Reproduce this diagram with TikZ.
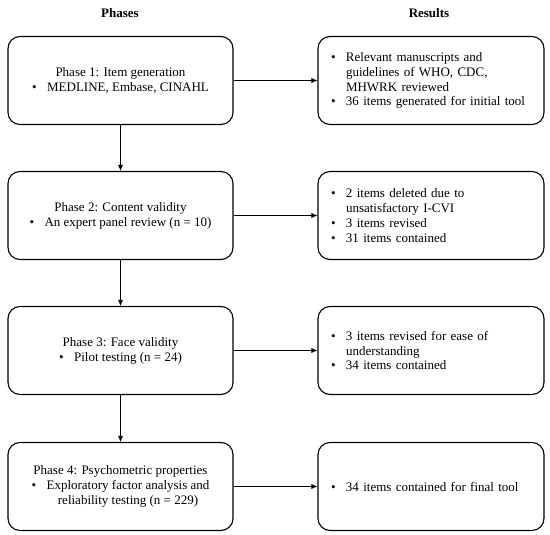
\documentclass[tikz,border=0pt]{standalone}
\usepackage{fontspec}
\setmainfont{Liberation Serif}
\usetikzlibrary{arrows.meta}
\newcommand{\bul}{\makebox[15pt][l]{\textbullet}}
\newcommand{\rbul}{\hspace*{6pt}\makebox[15pt][l]{\textbullet}}
\newcommand{\cont}{\hspace*{15pt}}
\newcommand{\rcont}{\hspace*{21pt}}
\begin{document}
\begin{tikzpicture}[x=1pt,y=-1pt,
  every node/.style={font=\fontsize{13}{14.8}\selectfont},
  box/.style={draw,line width=1.1pt,rounded corners=12pt,minimum width=225pt,minimum height=88pt,inner sep=0pt},
  lbox/.style={box,align=center},
  rbox/.style={box,align=left,text width=212pt,inner xsep=7pt},
  title/.style={font=\fontsize{13}{14.8}\selectfont\bfseries},
  arr/.style={-{Latex[length=6pt,width=5pt]},line width=0.6pt}]
\useasboundingbox (0,0) rectangle (550,535);
\node[title] (t1) at (120,13) {Phases};
\node[title] (t2) at (429,13) {Results};

\node[lbox] (p1) at (120.5,80.5) {Phase 1: Item generation\\\bul MEDLINE, Embase, CINAHL};
\node[lbox] (p2) at (120.5,215.5) {Phase 2: Content validity\\\bul An expert panel review (n = 10)};
\node[lbox] (p3) at (120.5,350.5) {Phase 3: Face validity\\\bul Pilot testing (n = 24)};
\node[lbox] (p4) at (120.5,486.5) {Phase 4: Psychometric properties\\\bul Exploratory factor analysis and\\\cont reliability testing (n = 229)};

\node[rbox] (r1) at (431,80.5) {\rbul Relevant manuscripts and\\\rcont guidelines of WHO, CDC,\\\rcont MHWRK reviewed\\\rbul 36 items generated for initial tool};
\node[rbox] (r2) at (431,215.5) {\rbul 2 items deleted due to\\\rcont unsatisfactory I-CVI\\\rbul 3 items revised\\\rbul 31 items contained};
\node[rbox] (r3) at (431,350.5) {\rbul 3 items revised for ease of\\\rcont understanding\\\rbul 34 items contained};
\node[rbox] (r4) at (431,486.5) {\rbul 34 items contained for final tool};

\draw[arr] (p1) -- (p2);
\draw[arr] (p2) -- (p3);
\draw[arr] (p3) -- (p4);
\draw[arr] (p1) -- (r1);
\draw[arr] (p2) -- (r2);
\draw[arr] (p3) -- (r3);
\draw[arr] (p4) -- (r4);
\end{tikzpicture}
\end{document}
